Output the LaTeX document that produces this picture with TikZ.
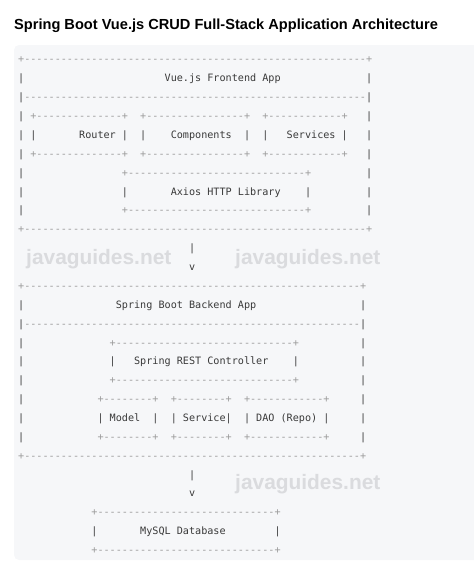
\documentclass[tikz,border=0pt]{standalone}
\usepackage{fontspec}
\setsansfont{Liberation Sans}
\setmonofont{DejaVu Sans Mono}
\usetikzlibrary{calc}

\definecolor{codebg}{HTML}{F6F7F9}
\definecolor{codetext}{HTML}{3A3A3A}
\definecolor{dashgray}{HTML}{9C9C9C}
\definecolor{markgray}{HTML}{DADBDE}

% repeat a token n times
\ExplSyntaxOn
\NewExpandableDocumentCommand\rpt{mm}{\prg_replicate:nn{#1}{#2}}
\ExplSyntaxOff
\newcommand{\sps}[1]{\rpt{#1}{~}}
\newcommand{\dsh}[1]{\textcolor{dashgray}{\rpt{#1}{-}}}
\newcommand{\crn}{\textcolor{dashgray}{+}}

\tikzset{
  ascii/.style={anchor=base west,inner sep=0pt,text=codetext,
    font=\ttfamily\fontsize{10.14}{12}\selectfont},
  watermark/.style={anchor=base west,inner sep=0pt,text=markgray,
    font=\sffamily\bfseries\fontsize{20.9}{24}\selectfont}
}

\begin{document}
\begin{tikzpicture}[x=1pt,y=-1pt]
\useasboundingbox (0,0) rectangle (474,563);
% Code block background
\fill[codebg,rounded corners=5pt] (14,45) rectangle (480,560);
% Title
\node[anchor=base west,inner sep=0pt,font=\sffamily\bfseries\fontsize{14.6}{17}\selectfont]
  (title) at (14,29.3) {Spring Boot Vue.js CRUD Full-Stack Application Architecture};
% Watermarks
\node[watermark] (wm1) at (26,264) {javaguides.net};
\node[watermark] (wm2) at (235,264) {javaguides.net};
\node[watermark] (wm3) at (235,489) {javaguides.net};
% Frontend box
\node[ascii] (f1) at (17.95,62.9) {\crn\dsh{56}\crn};
\node[ascii] (f2) at (17.95,81.8) {|\sps{23}Vue.js Frontend App\sps{14}|};
\node[ascii] (f3) at (17.95,100.6) {|\dsh{56}|};
\node[ascii] (f4) at (17.95,119.5) {|\sps{1}\crn\dsh{14}\crn\sps{2}\crn\dsh{16}\crn\sps{2}\crn\dsh{12}\crn\sps{3}|};
\node[ascii] (f5) at (17.95,138.4) {|\sps{1}|\sps{7}Router\sps{1}|\sps{2}|\sps{4}Components\sps{2}|\sps{2}|\sps{3}Services\sps{1}|\sps{3}|};
\node[ascii] (f6) at (17.95,157.2) {|\sps{1}\crn\dsh{14}\crn\sps{2}\crn\dsh{16}\crn\sps{2}\crn\dsh{12}\crn\sps{3}|};
\node[ascii] (f7) at (17.95,176.1) {|\sps{16}\crn\dsh{29}\crn\sps{9}|};
\node[ascii] (f8) at (17.95,195.0) {|\sps{16}|\sps{7}Axios HTTP Library\sps{4}|\sps{9}|};
\node[ascii] (f9) at (17.95,213.9) {|\sps{16}\crn\dsh{29}\crn\sps{9}|};
\node[ascii] (f10) at (17.95,232.7) {\crn\dsh{56}\crn};
% Arrow down to backend
\node[ascii] (a1) at (17.95,251.6) {\sps{28}|};
\node[ascii] (a2) at (17.95,270.5) {\sps{28}v};
% Backend box
\node[ascii] (b1) at (17.95,289.3) {\crn\dsh{55}\crn};
\node[ascii] (b2) at (17.95,308.2) {|\sps{15}Spring Boot Backend App\sps{17}|};
\node[ascii] (b3) at (17.95,327.1) {|\dsh{55}|};
\node[ascii] (b4) at (17.95,346.0) {|\sps{14}\crn\dsh{29}\crn\sps{10}|};
\node[ascii] (b5) at (17.95,364.8) {|\sps{14}|\sps{3}Spring REST Controller\sps{4}|\sps{10}|};
\node[ascii] (b6) at (17.95,383.7) {|\sps{14}\crn\dsh{29}\crn\sps{10}|};
\node[ascii] (b7) at (17.95,402.6) {|\sps{12}\crn\dsh{8}\crn\sps{2}\crn\dsh{8}\crn\sps{2}\crn\dsh{12}\crn\sps{5}|};
\node[ascii] (b8) at (17.95,421.4) {|\sps{12}|\sps{1}Model\sps{2}|\sps{2}|\sps{1}Service|\sps{2}|\sps{1}DAO (Repo)\sps{1}|\sps{5}|};
\node[ascii] (b9) at (17.95,440.3) {|\sps{12}\crn\dsh{8}\crn\sps{2}\crn\dsh{8}\crn\sps{2}\crn\dsh{12}\crn\sps{5}|};
\node[ascii] (b10) at (17.95,459.2) {\crn\dsh{55}\crn};
% Arrow down to database
\node[ascii] (a3) at (17.95,478.0) {\sps{28}|};
\node[ascii] (a4) at (17.95,496.9) {\sps{28}v};
% Database box
\node[ascii] (d1) at (17.95,515.8) {\sps{12}\crn\dsh{29}\crn};
\node[ascii] (d2) at (17.95,534.7) {\sps{12}|\sps{7}MySQL Database\sps{8}|};
\node[ascii] (d3) at (17.95,553.5) {\sps{12}\crn\dsh{29}\crn};
\end{tikzpicture}
\end{document}
